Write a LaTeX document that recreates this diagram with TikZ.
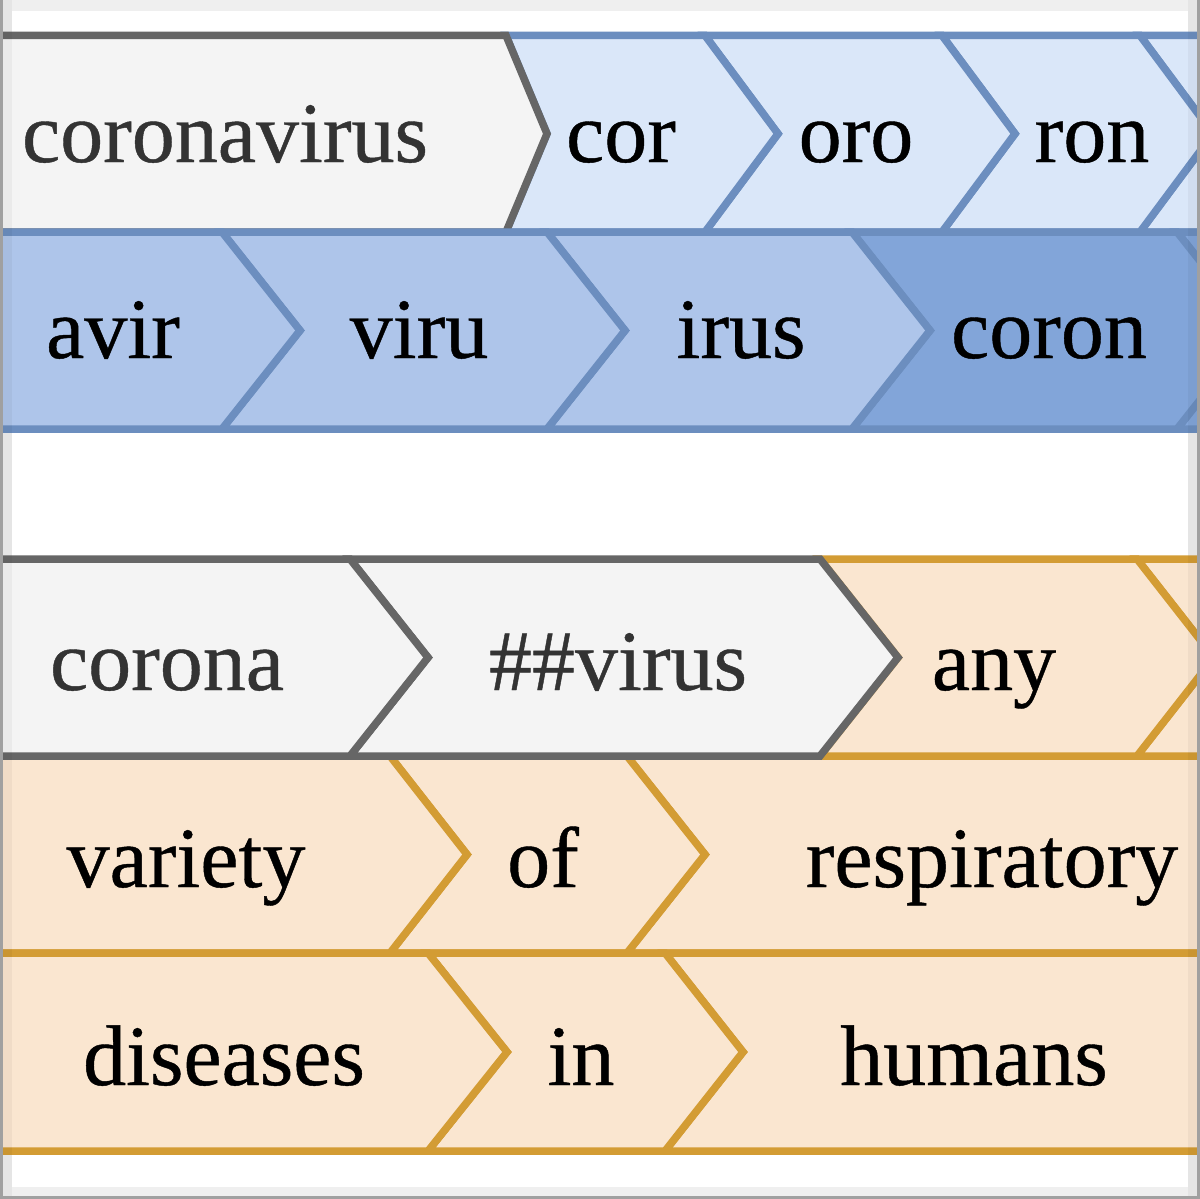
\documentclass[tikz,border=0pt]{standalone}
\usepackage{fontspec}
\setmainfont{Liberation Serif}[FakeBold=0.5]
\definecolor{bgmargin}{HTML}{EFEFEF}
\definecolor{edgegray}{HTML}{A0A0A0}
\definecolor{gfill}{HTML}{F4F4F4}
\definecolor{gstroke}{HTML}{666666}
\definecolor{gtext}{HTML}{333333}
\definecolor{bfillA}{HTML}{DAE7F9}
\definecolor{bfillB}{HTML}{AEC5EA}
\definecolor{bfillC}{HTML}{82A5D9}
\definecolor{bstroke}{HTML}{6C8EBF}
\definecolor{ofill}{HTML}{FAE6D0}
\definecolor{ostroke}{HTML}{D39C34}
\tikzset{
  chevgray/.style={fill=gfill, draw=gstroke, line width=7.5pt, line join=miter},
  chevblueA/.style={fill=bfillA, draw=bstroke, line width=7.5pt, line join=miter},
  chevblueB/.style={fill=bfillB, draw=bstroke, line width=7.5pt, line join=miter},
  chevblueC/.style={fill=bfillC, draw=bstroke, line width=7.5pt, line join=miter},
  chevorange/.style={fill=ofill, draw=ostroke, line width=7.5pt, line join=miter},
  lbl/.style={anchor=base, inner sep=0pt, outer sep=0pt, font=\fontsize{86}{100}\selectfont, text=black},
  glbl/.style={lbl, text=gtext},
}
% style, xl, notch depth, xr, point depth, top, mid, bottom
\newcommand{\chevshape}[8]{\path[#1] (#2,#6) -- (#4,#6) -- ({#4+#5},#7) -- (#4,#8) -- (#2,#8) -- ({#2+#3},#7) -- cycle;}
\begin{document}
\begin{tikzpicture}[x=1pt,y=-1pt]
\useasboundingbox (0,0) rectangle (1200,1199);
% page margins
\fill[bgmargin] (0,0) rectangle (1200,1199);
\fill[white] (12,11) rectangle (1188,1187);
\begin{scope}
\clip (3,0) rectangle (1200,1196);
% row 1
\chevshape{chevblueA}{1140}{73}{1400}{73}{35.5}{133.75}{232}
\chevshape{chevblueA}{942}{73}{1140}{73}{35.5}{133.75}{232}
\chevshape{chevblueA}{705}{73}{942}{73}{35.5}{133.75}{232}
\chevshape{chevblueA}{506}{41}{705}{73}{35.5}{133.75}{232}
\chevshape{chevgray}{-50}{0}{506}{41}{35.5}{133.75}{232}
% row 2
\chevshape{chevblueC}{1177}{78}{1400}{78}{232}{330.5}{429}
\chevshape{chevblueC}{852}{78}{1177}{78}{232}{330.5}{429}
\chevshape{chevblueB}{547}{78}{852}{78}{232}{330.5}{429}
\chevshape{chevblueB}{222}{78}{547}{78}{232}{330.5}{429}
\chevshape{chevblueB}{-50}{0}{222}{78}{232}{330.5}{429}
% row 4
\chevshape{chevorange}{627}{78}{1400}{78}{756}{854.5}{953}
\chevshape{chevorange}{390}{77}{627}{78}{756}{854.5}{953}
\chevshape{chevorange}{-50}{0}{390}{77}{756}{854.5}{953}
% row 5
\chevshape{chevorange}{665}{78}{1400}{78}{953}{1052}{1151}
\chevshape{chevorange}{428}{79}{665}{78}{953}{1052}{1151}
\chevshape{chevorange}{-50}{0}{428}{79}{953}{1052}{1151}
% row 3
\chevshape{chevorange}{1137}{77}{1400}{77}{559}{657.5}{756}
\chevshape{chevorange}{820}{78}{1137}{77}{559}{657.5}{756}
\chevshape{chevgray}{350}{78}{820}{78}{559}{657.5}{756}
\chevshape{chevgray}{-50}{0}{350}{78}{559}{657.5}{756}
\end{scope}
% labels
\node[glbl] (t-coronavirus) at (225,162) {coronavirus};
\node[lbl] (t-cor) at (621,162) {cor};
\node[lbl] (t-oro) at (856,162) {oro};
\node[lbl] (t-ron) at (1092,162) {ron};
\node[lbl] (t-avir) at (113,358) {avir};
\node[lbl] (t-viru) at (419,358) {viru};
\node[lbl] (t-irus) at (741,358) {irus};
\node[lbl] (t-coron) at (1049,358) {coron};
\node[glbl] (t-corona) at (167,690) {corona};
\node[glbl] (t-hashvirus) at (618,690) {\#\#virus};
\node[lbl] (t-any) at (994,690) {any};
\node[lbl] (t-variety) at (186,887) {variety};
\node[lbl] (t-of) at (543,887) {of};
\node[lbl] (t-respiratory) at (992,887) {respiratory};
\node[lbl] (t-diseases) at (224,1085) {diseases};
\node[lbl] (t-in) at (581,1085) {in};
\node[lbl] (t-humans) at (974,1085) {humans};
% translucent side margins and outer edges
\fill[black, opacity=0.04] (3,0) rectangle (12,1196);
\fill[black, opacity=0.04] (1188,0) rectangle (1197,1196);
\fill[edgegray] (0,0) rectangle (3,1199);
\fill[edgegray] (1197,0) rectangle (1200,1199);
\fill[edgegray] (0,1196) rectangle (1200,1199);
\end{tikzpicture}
\end{document}
